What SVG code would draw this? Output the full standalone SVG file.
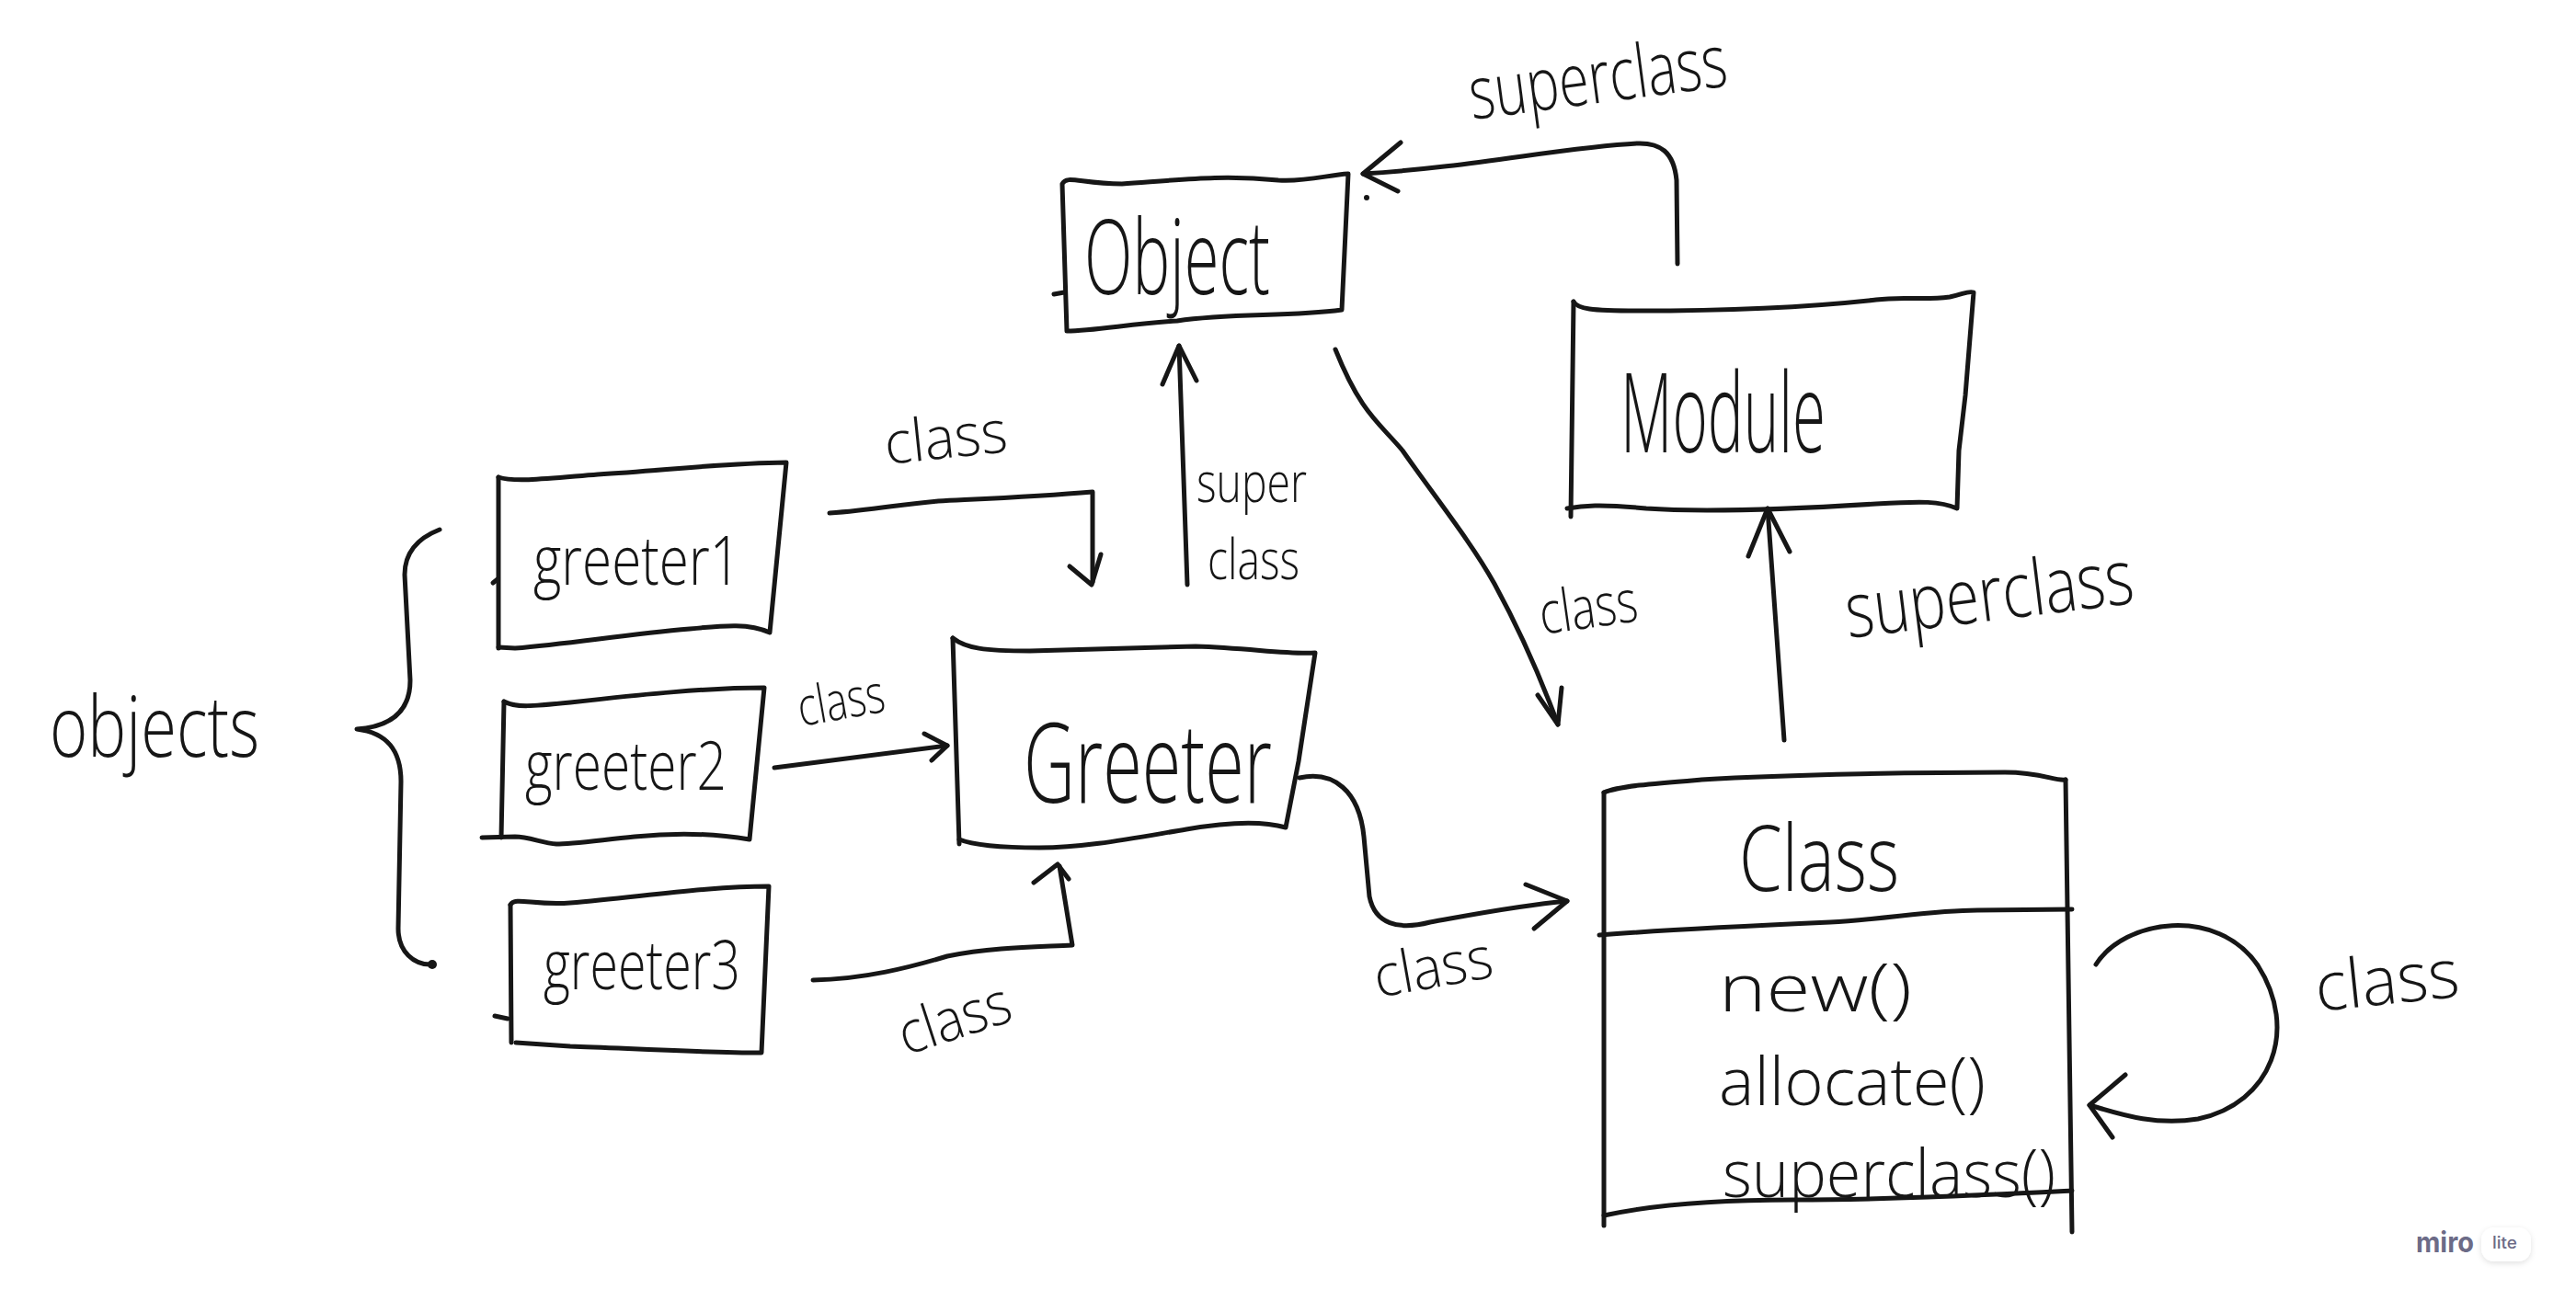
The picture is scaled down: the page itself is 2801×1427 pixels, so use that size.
<svg xmlns="http://www.w3.org/2000/svg" width="2801" height="1427" viewBox="0 0 2801 1427">
<defs>
<style>
.ln{fill:none;stroke:#161616;stroke-width:5;stroke-linecap:round;stroke-linejoin:round}
.tx{font-family:"Open Sans","Liberation Sans",sans-serif;font-weight:300;fill:#161616}
.logo{font-family:Inter,"Liberation Sans",sans-serif;fill:#6c6b87}
</style>
<filter id="sh" x="-30%" y="-30%" width="160%" height="160%"><feDropShadow dx="0" dy="2" stdDeviation="3" flood-color="#000" flood-opacity="0.12"/></filter>
</defs>
<rect width="2801" height="1427" fill="#ffffff"/>

<g id="connectors">
<path class="ln" d="M902,558 C950,555 980,548 1020,545 C1080,542 1130,540 1188,535 L1188,633"/>
<path class="ln" d="M1163,616 L1187,636 L1197,603"/>
<path class="ln" d="M842,835 L1030,811"/>
<path class="ln" d="M1005,798 L1030,811 L1013,827"/>
<path class="ln" d="M884,1066 C940,1065 990,1052 1030,1040 C1080,1030 1130,1030 1166,1028 L1152,942"/>
<path class="ln" d="M1124,960 L1150,940 L1162,956"/>
<path class="ln" d="M1291,636 L1282,376"/>
<path class="ln" d="M1264,418 L1282,376 L1301,414"/>
<path class="ln" d="M1452,380 C1480,450 1500,460 1525,490 C1560,540 1600,590 1625,635 C1655,690 1680,750 1694,788"/>
<path class="ln" d="M1672,756 L1694,788 L1698,748"/>
<path class="ln" d="M1824,287 L1823,196 C1820,165 1805,155 1780,156 C1700,160 1600,182 1482,189"/>
<path class="ln" d="M1523,155 L1482,189 L1520,208"/>
<circle cx="1486" cy="215" r="3" fill="#161616"/>
<path class="ln" d="M1940,805 L1922,553"/>
<path class="ln" d="M1901,605 L1922,553 L1946,600"/>
<path class="ln" d="M1413,846 C1450,838 1478,860 1483,910 L1489,975 C1495,1005 1520,1012 1555,1003 C1600,995 1650,985 1704,980"/>
<path class="ln" d="M1659,962 L1704,980 L1668,1010"/>
<path class="ln" d="M2279,1049 C2310,1000 2410,985 2455,1050 C2500,1120 2470,1200 2390,1217 C2340,1225 2300,1210 2272,1202"/>
<path class="ln" d="M2311,1169 L2272,1202 L2297,1237"/>
</g>

<g id="labels">
<text class="tx" x="964" y="505" font-size="64" textLength="134" lengthAdjust="spacingAndGlyphs" transform="rotate(-6 964 505)">class</text>
<text class="tx" x="871" y="790" font-size="58" textLength="95" lengthAdjust="spacingAndGlyphs" transform="rotate(-10 871 790)">class</text>
<text class="tx" x="985" y="1148" font-size="64" textLength="125" lengthAdjust="spacingAndGlyphs" transform="rotate(-18 985 1148)">class</text>
<text class="tx" x="1677" y="690" font-size="64" textLength="107" lengthAdjust="spacingAndGlyphs" transform="rotate(-8 1677 690)">class</text>
<text class="tx" x="1498" y="1085" font-size="64" textLength="130" lengthAdjust="spacingAndGlyphs" transform="rotate(-10 1498 1085)">class</text>
<text class="tx" x="2520" y="1100" font-size="74" textLength="157" lengthAdjust="spacingAndGlyphs" transform="rotate(-6 2520 1100)">class</text>
<text class="tx" x="1601" y="130" font-size="80" textLength="282" lengthAdjust="spacingAndGlyphs" transform="rotate(-7.5 1601 130)">superclass</text>
<text class="tx" x="2010" y="694" font-size="84" textLength="315" lengthAdjust="spacingAndGlyphs" transform="rotate(-7 2010 694)">superclass</text>
<text class="tx" x="1301" y="546" font-size="60" textLength="120" lengthAdjust="spacingAndGlyphs">super</text>
<text class="tx" x="1313" y="630" font-size="60" textLength="100" lengthAdjust="spacingAndGlyphs">class</text>
<text class="tx" x="54" y="823" font-size="92" textLength="228" lengthAdjust="spacingAndGlyphs">objects</text>
</g>

<g id="bracket">
<path class="ln" d="M478,576 C455,585 440,600 440,625 L446,740 C446,770 430,790 388,793 C420,797 436,815 436,850 L433,1010 C433,1035 450,1050 470,1049"/>
<circle cx="470" cy="1049" r="5" fill="#161616"/>
</g>

<g id="node-object">
<path class="ln" d="M1160,360 L1155,200 C1160,190 1175,200 1220,200 C1290,195 1330,190 1390,196 C1420,198 1445,190 1466,189 L1459,337 C1400,345 1340,340 1280,349 C1230,352 1190,360 1160,360"/>
<path class="ln" d="M1146,320 L1157,318"/>
<text class="tx" x="1179" y="320" font-size="112" textLength="202" lengthAdjust="spacingAndGlyphs">Object</text>
</g>

<g id="node-module">
<path class="ln" d="M1711,328 C1715,336 1730,338 1780,338 C1860,338 1950,336 2040,326 C2070,322 2090,327 2120,323 C2135,320 2140,316 2146,318 L2137,430 L2130,490 L2128,553 C2110,545 2090,545 2040,548 C1960,553 1860,558 1790,553 C1740,548 1720,550 1704,553"/>
<path class="ln" d="M1711,328 L1708,562"/>
<text class="tx" x="1762" y="492" font-size="120" textLength="223" lengthAdjust="spacingAndGlyphs">Module</text>
</g>

<g id="node-greeter">
<path class="ln" d="M1036,694 C1050,705 1070,708 1120,708 L1300,703 C1360,705 1400,712 1430,710 L1412,828 L1398,900 C1370,892 1330,895 1290,902 C1230,912 1180,922 1130,922 C1090,922 1060,920 1043,913"/>
<path class="ln" d="M1036,694 L1043,918"/>
<text class="tx" x="1113" y="873" font-size="120" textLength="270" lengthAdjust="spacingAndGlyphs">Greeter</text>
</g>

<g id="node-greeter1">
<path class="ln" d="M542,519 C560,525 600,520 650,516 C720,512 780,504 855,503 L837,688 C815,678 790,680 750,684 C680,690 620,700 560,705 L542,704"/>
<path class="ln" d="M542,519 L542,705"/>
<path class="ln" d="M536,634 L541,630"/>
<text class="tx" x="580" y="636" font-size="74" textLength="225" lengthAdjust="spacingAndGlyphs">greeter1</text>
</g>

<g id="node-greeter2">
<path class="ln" d="M548,763 C560,770 580,768 620,764 C700,755 770,748 831,748 L815,913 C780,907 740,905 690,910 C650,914 620,918 605,918 C590,917 575,910 560,910 L524,911"/>
<path class="ln" d="M548,763 L545,911"/>
<text class="tx" x="571" y="859" font-size="74" textLength="219" lengthAdjust="spacingAndGlyphs">greeter2</text>
</g>

<g id="node-greeter3">
<path class="ln" d="M555,984 C560,975 580,985 620,982 C700,975 770,964 836,964 L828,1145 C760,1145 680,1140 620,1138 L561,1134"/>
<path class="ln" d="M555,984 L556,1134"/>
<path class="ln" d="M538,1105 L552,1108"/>
<text class="tx" x="591" y="1076" font-size="74" textLength="214" lengthAdjust="spacingAndGlyphs">greeter3</text>
</g>

<g id="node-class">
<path class="ln" d="M1744,862 C1760,855 1800,852 1850,848 C1950,842 2100,840 2180,840 C2220,840 2235,850 2246,848"/>
<path class="ln" d="M2246,848 L2253,1340"/>
<path class="ln" d="M1739,1017 C1800,1012 1900,1007 1990,1003 C2050,1000 2100,990 2150,990 L2253,989"/>
<path class="ln" d="M1744,1322 C1790,1312 1850,1305 1950,1305 C2050,1305 2150,1300 2253,1295"/>
<path class="ln" d="M1744,862 L1744,1333"/>
<text class="tx" x="1891" y="969" font-size="100" textLength="174" lengthAdjust="spacingAndGlyphs">Class</text>
<text class="tx" x="1869" y="1100" font-size="72" textLength="210" lengthAdjust="spacingAndGlyphs">new()</text>
<text class="tx" x="1869" y="1202" font-size="72" textLength="290" lengthAdjust="spacingAndGlyphs">allocate()</text>
<text class="tx" x="1873" y="1302" font-size="72" textLength="362" lengthAdjust="spacingAndGlyphs">superclass()</text>
</g>

<g id="miro-logo">
<text class="logo" x="2627" y="1362" font-size="31" font-weight="700" textLength="63" lengthAdjust="spacingAndGlyphs">miro</text>
<rect x="2698" y="1335" width="54" height="37" rx="14" fill="#ffffff" filter="url(#sh)"/>
<text class="logo" x="2710" y="1358" font-size="18" font-weight="500" textLength="27" lengthAdjust="spacingAndGlyphs">lite</text>
</g>
</svg>
